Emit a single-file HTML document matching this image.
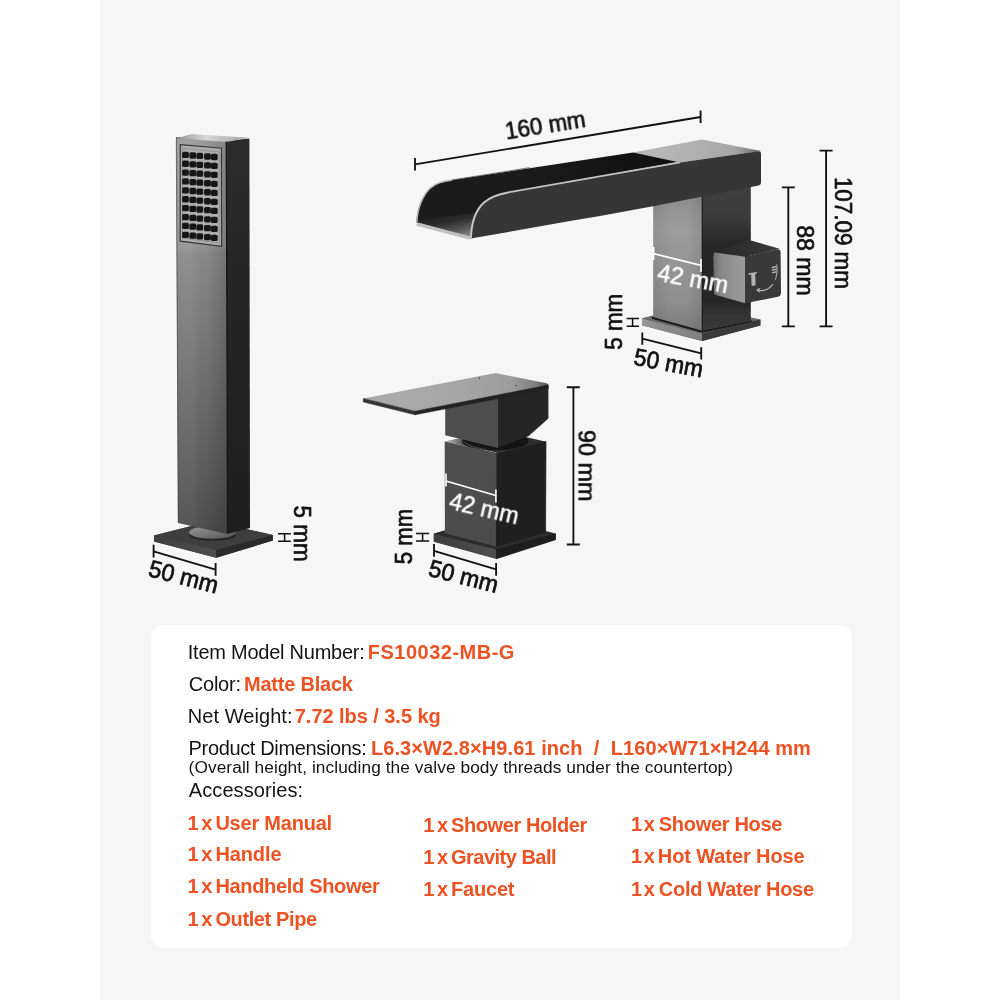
<!DOCTYPE html>
<html lang="en">
<head>
<meta charset="utf-8">
<title>Faucet set dimensions</title>
<style>
  html, body { margin: 0; padding: 0; }
  body { width: 1000px; height: 1000px; background: #ffffff; position: relative; overflow: hidden;
         font-family: "Liberation Sans", sans-serif; }
  .band { position: absolute; left: 100px; top: 0; width: 800px; height: 1000px; background: #f6f6f6; }
  .card { position: absolute; left: 151px; top: 625px; width: 701px; height: 323px; background: #ffffff; border-radius: 13px; }
  .art { position: absolute; left: 0; top: 0; width: 1000px; height: 1000px; }
  .t { position: absolute; white-space: nowrap; line-height: 1; font-size: 20px; color: #141414;
       transform-origin: 0 0; }
  .o { color: #ec5222; font-weight: bold; }
  .s { font-size: 17px; }
</style>
</head>
<body>
<div class="band"></div>
<div class="card"></div>

<!--ART-->
<svg class="art" width="1000" height="1000" viewBox="0 0 1000 1000">
<defs>
  <linearGradient id="shFront" x1="0" y1="0" x2="0" y2="1">
    <stop offset="0" stop-color="#9c9c9c"/><stop offset="0.275" stop-color="#949494"/><stop offset="0.295" stop-color="#8a8a8a"/><stop offset="0.411" stop-color="#808080"/><stop offset="0.537" stop-color="#767676"/><stop offset="0.688" stop-color="#696969"/><stop offset="0.839" stop-color="#5d5d5d"/><stop offset="0.965" stop-color="#505050"/><stop offset="1" stop-color="#4c4c4c"/>
  </linearGradient>
  <linearGradient id="shSide" x1="0" y1="0" x2="0" y2="1">
    <stop offset="0" stop-color="#2c2c2c"/><stop offset="0.3" stop-color="#262626"/><stop offset="1" stop-color="#1e1e1e"/>
  </linearGradient>
  <linearGradient id="colFront" x1="0" y1="0" x2="0" y2="1">
    <stop offset="0" stop-color="#7c7c7c"/><stop offset="0.12" stop-color="#909090"/><stop offset="0.3" stop-color="#9c9c9c"/><stop offset="0.8" stop-color="#8e8e8e"/><stop offset="1" stop-color="#7c7c7c"/>
  </linearGradient>
  <linearGradient id="knobL" x1="0" y1="0" x2="1" y2="0">
    <stop offset="0" stop-color="#6c6c6c"/><stop offset="0.25" stop-color="#888888"/><stop offset="0.7" stop-color="#949494"/><stop offset="1" stop-color="#9a9a9a"/>
  </linearGradient>
  <linearGradient id="floorG" x1="0.25" y1="0" x2="0.8" y2="1">
    <stop offset="0" stop-color="#1a1a1a"/><stop offset="0.4" stop-color="#2c2c2c"/><stop offset="0.75" stop-color="#5c5c5c"/><stop offset="1" stop-color="#8e8e8e"/>
  </linearGradient>
  <linearGradient id="leverTop" x1="0" y1="0" x2="1" y2="0">
    <stop offset="0" stop-color="#acacac"/><stop offset="0.5" stop-color="#a6a6a6"/><stop offset="0.8" stop-color="#9c9c9c"/><stop offset="0.93" stop-color="#808080"/><stop offset="1" stop-color="#505050"/>
  </linearGradient>
  <linearGradient id="blkTop" x1="0" y1="0" x2="1" y2="0">
    <stop offset="0" stop-color="#a8a8a8"/><stop offset="0.1" stop-color="#b8b8b8"/><stop offset="0.5" stop-color="#b0b0b0"/><stop offset="0.8" stop-color="#a6a6a6"/><stop offset="0.93" stop-color="#808080"/><stop offset="1" stop-color="#484848"/>
  </linearGradient>
  <linearGradient id="colEdge" x1="0" y1="0" x2="1" y2="0">
    <stop offset="0" stop-color="#000" stop-opacity="0.08"/><stop offset="0.35" stop-color="#000" stop-opacity="0"/>
    <stop offset="0.7" stop-color="#000" stop-opacity="0"/><stop offset="1" stop-color="#000" stop-opacity="0.08"/>
  </linearGradient>
  <linearGradient id="cubeL" x1="0" y1="0" x2="0" y2="1">
    <stop offset="0" stop-color="#4e4e4e"/><stop offset="1" stop-color="#4b4b4b"/>
  </linearGradient>
  <linearGradient id="blockL" x1="0" y1="0" x2="1" y2="1">
    <stop offset="0" stop-color="#4d4d4d"/><stop offset="1" stop-color="#4d4d4d"/>
  </linearGradient>
  <linearGradient id="shTop" x1="0" y1="0" x2="1" y2="0">
    <stop offset="0" stop-color="#909090"/><stop offset="0.4" stop-color="#d8d8d8"/><stop offset="1" stop-color="#a0a0a0"/>
  </linearGradient>
  <linearGradient id="shH" x1="0" y1="0" x2="1" y2="0">
    <stop offset="0" stop-color="#fff" stop-opacity="0.04"/><stop offset="0.3" stop-color="#fff" stop-opacity="0.05"/><stop offset="0.6" stop-color="#000" stop-opacity="0.02"/><stop offset="1" stop-color="#000" stop-opacity="0.17"/>
  </linearGradient>
  <linearGradient id="colSide" x1="0" y1="0" x2="0" y2="1">
    <stop offset="0" stop-color="#404040"/><stop offset="0.25" stop-color="#3b3b3b"/><stop offset="0.42" stop-color="#272727"/><stop offset="0.8" stop-color="#252525"/><stop offset="0.9" stop-color="#343434"/><stop offset="1" stop-color="#373737"/>
  </linearGradient>
  <linearGradient id="fbaseL" x1="0" y1="0" x2="1" y2="0"><stop offset="0" stop-color="#989898"/><stop offset="0.4" stop-color="#8a8a8a"/><stop offset="1" stop-color="#808080"/></linearGradient>
  <linearGradient id="sbaseL" x1="0" y1="0" x2="1" y2="0">
    <stop offset="0" stop-color="#3e3e3e"/><stop offset="1" stop-color="#4e4e4e"/>
  </linearGradient>
  <linearGradient id="ringG" x1="0" y1="0" x2="1" y2="1">
    <stop offset="0" stop-color="#989898"/><stop offset="0.6" stop-color="#707070"/><stop offset="1" stop-color="#505050"/>
  </linearGradient>
  <linearGradient id="knobTop" x1="0" y1="0" x2="1" y2="0">
    <stop offset="0" stop-color="#262626"/><stop offset="1" stop-color="#3a3a3a"/>
  </linearGradient>
  <filter id="blur3" x="-50%" y="-50%" width="200%" height="200%"><feGaussianBlur stdDeviation="5"/></filter>
  <clipPath id="colSideClip"><polygon points="702,185 750.8,180 750.8,320.8 702,330.4"/></clipPath>
  <linearGradient id="cubeTop" x1="0" y1="0" x2="1" y2="0">
    <stop offset="0" stop-color="#bcbcbc"/><stop offset="0.1" stop-color="#8a8a8a"/><stop offset="0.2" stop-color="#484848"/><stop offset="0.3" stop-color="#2c2c2c"/><stop offset="1" stop-color="#2e2e2e"/>
  </linearGradient>
  <linearGradient id="backG" x1="0" y1="0" x2="1" y2="0">
    <stop offset="0" stop-color="#1c1c1c"/><stop offset="0.5" stop-color="#191919"/><stop offset="1" stop-color="#0f0f0f"/>
  </linearGradient>
</defs>

<!-- ================= HANDHELD SHOWER ================= -->
<g id="shower">
  <!-- base plate -->
  <polygon points="154,535.5 211,521 272.8,535 272.8,540.5 216.2,557.8 154,541.5" fill="#3a3a3a"/>
  <polygon points="154,535.5 211,521 272.8,535 216.2,550" fill="#3e3e3e"/>
  <polygon points="154,535.5 216.2,550 216.2,557.8 154,541.5" fill="url(#sbaseL)"/>
  <polygon points="216.2,550 272.8,535 272.8,540.5 216.2,557.8" fill="#2a2a2a"/>
  <!-- connector ring -->
  <ellipse cx="212.4" cy="535" rx="23.4" ry="6" fill="#262626"/>
  <ellipse cx="212.4" cy="532.4" rx="23.4" ry="6.4" fill="url(#ringG)"/>
  <!-- body -->
  <polygon points="176,137.6 226,141 227.4,534 178,523" fill="url(#shFront)"/>
  <polygon points="176,137.6 226,141 227.4,534 178,523" fill="url(#shH)"/>
  <path d="M176.3,137.8 L178.3,523" stroke="#3c3c3c" stroke-width="0.9" fill="none" opacity="0.7"/>
  <path d="M176,137.8 L226,141.2" stroke="#3a3a3a" stroke-width="0.9" fill="none"/>
  <polygon points="226,141 249.4,138.4 250,528 227.4,534" fill="url(#shSide)"/>
  <polygon points="176.3,138.5 191.6,134 248.6,137.8 226.3,142" fill="url(#shTop)"/>
  <path d="M226.3,141.4 L227.6,533.6" stroke="#141414" stroke-width="1.3" fill="none"/>
  <!-- spray plate -->
  <polygon points="180.3,144.6 221.4,148.2 221.6,246.3 180.2,241.1" fill="#adadad" stroke="#383838" stroke-width="1.2"/>
  <polygon points="182.4,148.4 219.2,151.8 219.4,243 182.4,238" fill="none" stroke="#8a8a8a" stroke-width="0.8"/>
  <g id="nozzles" fill="#161616"><rect x="182.10" y="151.81" width="6.8" height="6.3" rx="1.6"/><rect x="189.40" y="152.33" width="6.8" height="6.3" rx="1.6"/><rect x="196.40" y="152.82" width="6.8" height="6.3" rx="1.6"/><rect x="204.10" y="153.35" width="6.8" height="6.3" rx="1.6"/><rect x="210.90" y="153.83" width="6.8" height="6.3" rx="1.6"/><rect x="182.10" y="160.61" width="6.8" height="6.3" rx="1.6"/><rect x="189.40" y="161.15" width="6.8" height="6.3" rx="1.6"/><rect x="196.40" y="161.67" width="6.8" height="6.3" rx="1.6"/><rect x="204.10" y="162.24" width="6.8" height="6.3" rx="1.6"/><rect x="210.90" y="162.74" width="6.8" height="6.3" rx="1.6"/><rect x="182.10" y="169.41" width="6.8" height="6.3" rx="1.6"/><rect x="189.40" y="169.98" width="6.8" height="6.3" rx="1.6"/><rect x="196.40" y="170.53" width="6.8" height="6.3" rx="1.6"/><rect x="204.10" y="171.13" width="6.8" height="6.3" rx="1.6"/><rect x="210.90" y="171.66" width="6.8" height="6.3" rx="1.6"/><rect x="182.10" y="178.31" width="6.8" height="6.3" rx="1.6"/><rect x="189.40" y="178.91" width="6.8" height="6.3" rx="1.6"/><rect x="196.40" y="179.48" width="6.8" height="6.3" rx="1.6"/><rect x="204.10" y="180.11" width="6.8" height="6.3" rx="1.6"/><rect x="210.90" y="180.67" width="6.8" height="6.3" rx="1.6"/><rect x="182.10" y="187.21" width="6.8" height="6.3" rx="1.6"/><rect x="189.40" y="187.83" width="6.8" height="6.3" rx="1.6"/><rect x="196.40" y="188.44" width="6.8" height="6.3" rx="1.6"/><rect x="204.10" y="189.10" width="6.8" height="6.3" rx="1.6"/><rect x="210.90" y="189.68" width="6.8" height="6.3" rx="1.6"/><rect x="182.10" y="196.11" width="6.8" height="6.3" rx="1.6"/><rect x="189.40" y="196.76" width="6.8" height="6.3" rx="1.6"/><rect x="196.40" y="197.39" width="6.8" height="6.3" rx="1.6"/><rect x="204.10" y="198.09" width="6.8" height="6.3" rx="1.6"/><rect x="210.90" y="198.70" width="6.8" height="6.3" rx="1.6"/><rect x="182.10" y="205.00" width="6.8" height="6.3" rx="1.6"/><rect x="189.40" y="205.69" width="6.8" height="6.3" rx="1.6"/><rect x="196.40" y="206.35" width="6.8" height="6.3" rx="1.6"/><rect x="204.10" y="207.07" width="6.8" height="6.3" rx="1.6"/><rect x="210.90" y="207.71" width="6.8" height="6.3" rx="1.6"/><rect x="182.10" y="214.00" width="6.8" height="6.3" rx="1.6"/><rect x="189.40" y="214.72" width="6.8" height="6.3" rx="1.6"/><rect x="196.40" y="215.40" width="6.8" height="6.3" rx="1.6"/><rect x="204.10" y="216.16" width="6.8" height="6.3" rx="1.6"/><rect x="210.90" y="216.82" width="6.8" height="6.3" rx="1.6"/><rect x="182.10" y="222.80" width="6.8" height="6.3" rx="1.6"/><rect x="189.40" y="223.54" width="6.8" height="6.3" rx="1.6"/><rect x="196.40" y="224.26" width="6.8" height="6.3" rx="1.6"/><rect x="204.10" y="225.04" width="6.8" height="6.3" rx="1.6"/><rect x="210.90" y="225.74" width="6.8" height="6.3" rx="1.6"/><rect x="182.10" y="231.70" width="6.8" height="6.3" rx="1.6"/><rect x="189.40" y="232.47" width="6.8" height="6.3" rx="1.6"/><rect x="196.40" y="233.21" width="6.8" height="6.3" rx="1.6"/><rect x="204.10" y="234.03" width="6.8" height="6.3" rx="1.6"/><rect x="210.90" y="234.75" width="6.8" height="6.3" rx="1.6"/></g>
</g>

<!-- ================= FAUCET ================= -->
<g id="faucet">
  <!-- base plate -->
  <polygon points="642,318.4 690,306 760.4,319.4 760.4,325.6 702,341 642,325.2" fill="#4a4a4a"/>
  <polygon points="642,318.4 690,306 760.4,319.4 702,333.4" fill="#6a6a6a"/>
  <path d="M652,317.6 L702,331.6 L752,321.4" stroke="#1c1c1c" stroke-width="2.4" fill="none"/>
  <polygon points="642,318.4 702,333.4 702,341 642,325.2" fill="url(#fbaseL)"/>
  <polygon points="702,333.4 760.4,319.4 760.4,325.6 702,341" fill="#3a3a3a"/>
  <!-- column -->
  <polygon points="653.2,190 702,185 702,330.4 653.2,317" fill="url(#colFront)"/>
  <polygon points="653.2,190 702,185 702,330.4 653.2,317" fill="url(#colEdge)"/>
  <polygon points="702,185 750.8,180 750.8,320.8 702,330.4" fill="url(#colSide)"/>
  <path d="M702.3,196 L702.3,330" stroke="#1c1c1c" stroke-width="1.2" fill="none"/>
  <!-- spout: interior back wall -->
  <path d="M416.4,222.4 C417.4,207 424,187.5 440,182.6 Q444,181.4 452,180 L633,152.4 L690,160 L508,192.4 C484,199 472,220 470.8,238.4 Z" fill="url(#backG)"/>
  <!-- floor -->
  <path d="M417,221.6 L470.8,237.4 C471.2,229 473,220.5 476.6,212.8 L418.4,220.4 Z" fill="url(#floorG)"/>
  <path d="M416.8,224 L470.3,238.2" stroke="#c0c0c0" stroke-width="3.4" fill="none"/>
  <path d="M416.8,222.4 C417.4,207 424,187.5 440,182.6 Q444,181.4 452,180" stroke="#b8b8b8" stroke-width="1.5" fill="none"/>
  <path d="M452,180 L530,167.6" stroke="#5a5a5a" stroke-width="0.8" fill="none"/>
  <!-- top of solid block -->
  <polygon points="633,152.4 702,139.4 761,151 680,162.4" fill="url(#blkTop)"/>
  <!-- front wall -->
  <path d="M470.8,238.6 C471.3,226 474.5,211 484,202.5 C490,197 497,194.3 508,192.4 L680,162.4 L758.6,151.2 Q761,150.9 761,153.4 L761,182.8 Q761,185 758.6,185.5 L653,206.2 L600,216 L570,221 Z" fill="#363636"/>
  <path d="M470.9,238 C471.3,226 474.5,211 484,202.5 C490,197 497,194.3 508,192.4" stroke="#c6c6c6" stroke-width="2" fill="none"/>
  <path d="M508,192.4 L680,162.4" stroke="#c2c2c2" stroke-width="1.7" fill="none"/>
  <!-- knob -->
  <polygon points="713.2,252 749.2,240 779.6,248.8 745.2,256.8" fill="url(#knobTop)"/>
  <path d="M715.2,252.4 L745.2,256.8 L745.2,303.2 L716,295 Q714,294.4 714,292.4 L713.4,254.2 Q713.4,252.2 715.2,252.4 Z" fill="url(#knobL)"/>
  <path d="M745.2,256.8 L776.6,249.4 Q780.4,248.6 780.6,252.4 L781,292.6 Q781,296 777.8,296.8 L745.2,303.2 Z" fill="#393939"/>
  <!-- knob icons -->
  <g stroke="#b4b4b4" stroke-width="1.2" fill="none" stroke-linecap="round">
    <path d="M757.6,290 Q766,292.6 772.6,284.6"/>
    <path d="M757,290 l2.8,-1.4 M757,290 l2.4,1.9"/>
    <path d="M776.8,264.8 Q778.2,272 775.6,279.4" stroke-width="1"/>
  </g>
  <path d="M748.6,273.2 l8.2,-1.2 l0.2,1.6 l-1.8,0.4 l0.4,11.2 l-4,0.8 l-0.4,-11.4 l-2.4,0.4 Z" fill="#b4b4b4"/>
  <path d="M771.6,267 l4.6,-1.2 l0.2,1.4 l-4.6,1.2 Z M771.8,269.6 l4.6,-1.2 l0.2,1.4 l-4.6,1.2 Z M772,272.2 l4.4,-1.2 l0.2,1.4 l-4.4,1.2 Z" fill="#b4b4b4"/>
</g>

<!-- ================= HANDLE ================= -->
<g id="handle">
  <!-- base plate -->
  <polygon points="434,534 490,518 555.4,534 555.4,539.6 496.4,558.6 434,541.4" fill="#333" stroke="#333" stroke-width="0.7" stroke-linejoin="round"/>
  <polygon points="434,534 490,518 555.4,534 496.4,549.6" fill="#2c2c2c" stroke="#2c2c2c" stroke-width="0.7" stroke-linejoin="round"/>
  <polygon points="434,534 496.4,549.6 496.4,558.6 434,541.4" fill="url(#sbaseL)"/>
  <polygon points="496.4,549.6 555.4,534 555.4,539.6 496.4,558.6" fill="#1e1e1e" stroke="#1e1e1e" stroke-width="0.7" stroke-linejoin="round"/>
  <!-- cube -->
  <polygon points="444.7,441.6 495,430 546.4,441.8 496.6,452.6" fill="url(#cubeTop)"/>
  <polygon points="444.7,441.6 496.4,452.8 496.4,546.6 444.9,533.2" fill="url(#cubeL)"/>
  <polygon points="496.4,452.8 546,441.6 545.6,532 496.4,546.6" fill="#1f1f1f" stroke="#1f1f1f" stroke-width="0.7" stroke-linejoin="round"/>
  <!-- neck -->
  <ellipse cx="495.2" cy="441.2" rx="33.2" ry="9" fill="#141414"/>
  <path d="M463,441 Q470,447.5 486,449.6" stroke="#3c3c3c" stroke-width="1.6" fill="none"/>
  <!-- lever block -->
  <polygon points="445.2,408 498,397.5 498,448 445.2,435.2" fill="url(#blockL)"/>
  <path d="M498,396.5 L546.4,386 Q548.4,385.6 548.4,388 L548.4,418.4 L528.4,436.2 L498,448 Z" fill="#252525"/>
  <!-- lever plate -->
  <path d="M363.3,398.4 L495.8,373.1 L546.6,383.2 Q548.6,383.8 548.4,386 L415,411.2 Z" fill="url(#leverTop)"/>
  <polygon points="363.3,398.4 415,411.2 415,414.8 363.3,402" fill="#343434" stroke="#343434" stroke-width="0.5"/>
  <polygon points="415,411.2 548.4,385 548.4,388.8 415,414.8" fill="#222222" stroke="#222222" stroke-width="0.5"/>
  <circle cx="479.5" cy="378.4" r="0.7" fill="#2a2a2a"/><circle cx="516" cy="385.6" r="0.7" fill="#2a2a2a"/>
</g>

<!-- ================= DIMENSION LINES ================= -->
<g stroke="#111" stroke-width="1.85" fill="none">
  <!-- shower 50mm -->
  <path d="M153.6,551.3 L215.6,569.7 M153.6,544.8 V557.4 M215.6,563 V575.8"/>
  <!-- shower 5mm I-beam -->
  <path d="M278,533.8 H290.8 M278,541.2 H290.8 M284.6,533.8 V541.2" stroke-width="1.5"/>
  <!-- 160 mm -->
  <path d="M415,164.4 L700.6,117 M415,158 V170.4 M700.6,110.4 V123"/>
  <!-- faucet 50mm -->
  <path d="M642.3,338.6 L701.2,353.4 M642.3,332.6 V344.8 M701.2,347.2 V359.6"/>
  <!-- faucet 5mm -->
  <path d="M626.6,318.6 H639 M626.6,326.2 H639 M632.6,318.6 V326.2" stroke-width="1.5"/>
  <!-- 88 mm -->
  <path d="M788.3,187.3 V326.3 M781.8,187.3 H794.8 M781.8,326.3 H794.8"/>
  <!-- 107.09 mm -->
  <path d="M826.1,150.6 V326.3 M819.6,150.6 H832.6 M819.6,326.3 H832.6"/>
  <!-- handle 50mm -->
  <path d="M434,550.8 L496.1,569.3 M434,544 V556.8 M496.1,563 V575.7"/>
  <!-- handle 5mm -->
  <path d="M416,533.4 H429.2 M416,541 H429.2 M422.6,533.4 V541" stroke-width="1.5"/>
  <!-- 90 mm -->
  <path d="M573.4,387.2 V544.5 M566.8,387.2 H579.8 M566.8,544.5 H579.8"/>
</g>
<g stroke="#ffffff" stroke-width="1.6" fill="none">
  <path d="M653.6,253.6 L701,265.4 M653.6,247 V260 M701,259 V272"/>
  <path d="M446,481.1 L495.9,495.5 M446,473.6 V486.6 M495.9,489.4 V502.4"/>
</g>

<!-- ================= DIMENSION LABELS ================= -->
<g opacity="0.999" font-family="Liberation Sans, sans-serif" font-size="24" fill="#111" stroke="#111" stroke-width="0.7" stroke-linejoin="round">
  <text transform="translate(506.5,139.5) rotate(-9)" textLength="81" lengthAdjust="spacingAndGlyphs">160 mm</text>
  <text transform="translate(147.3,575.7) rotate(14.5)" textLength="71" lengthAdjust="spacingAndGlyphs">50 mm</text>
  <text transform="translate(293.6,505.6) rotate(90)" textLength="56" lengthAdjust="spacingAndGlyphs">5 mm</text>
  <text transform="translate(632.7,364.6) rotate(10.5)" textLength="70" lengthAdjust="spacingAndGlyphs">50 mm</text>
  <text transform="translate(622.2,349.8) rotate(-90)" textLength="56" lengthAdjust="spacingAndGlyphs">5 mm</text>
  <text transform="translate(797,225.2) rotate(90)" textLength="70.5" lengthAdjust="spacingAndGlyphs">88 mm</text>
  <text transform="translate(835.2,176.9) rotate(90)" textLength="112" lengthAdjust="spacingAndGlyphs">107.09 mm</text>
  <text transform="translate(427.3,575.6) rotate(14.2)" textLength="71" lengthAdjust="spacingAndGlyphs">50 mm</text>
  <text transform="translate(412.4,564.2) rotate(-90)" textLength="55.5" lengthAdjust="spacingAndGlyphs">5 mm</text>
  <text transform="translate(578.6,430) rotate(90)" textLength="71.5" lengthAdjust="spacingAndGlyphs">90 mm</text>
</g>
<g opacity="0.999" font-family="Liberation Sans, sans-serif" font-size="23.5" fill="#ffffff" stroke="#ffffff" stroke-width="0.5" stroke-linejoin="round">
  <text transform="translate(656.4,280.5) rotate(10.3)" textLength="71.4" lengthAdjust="spacingAndGlyphs">42 mm</text>
  <text transform="translate(448.1,508.5) rotate(13)" textLength="70.6" lengthAdjust="spacingAndGlyphs">42 mm</text>
</g>
</svg>

<!--/ART-->

<div id="txt" style="position:absolute;left:0;top:0;width:1000px;height:1000px;will-change:transform;filter:opacity(0.999);">
<!-- spec card text -->
<div class="t " id="r1a" style="left:187.80px; top:642.10px; font-size:20.0px; letter-spacing:-0.247px;">Item Model Number:</div>
<div class="t o" id="r1b" style="left:367.80px; top:642.10px; font-size:20.0px; letter-spacing:0.491px;">FS10032-MB-G</div>
<div class="t " id="r2a" style="left:188.80px; top:674.10px; font-size:20.0px; letter-spacing:-0.240px;">Color:</div>
<div class="t o" id="r2b" style="left:244.00px; top:674.10px; font-size:20.0px; letter-spacing:-0.220px;">Matte Black</div>
<div class="t " id="r3a" style="left:187.80px; top:705.50px; font-size:20.0px; letter-spacing:0.060px;">Net Weight:</div>
<div class="t o" id="r3b" style="left:294.80px; top:705.50px; font-size:20.0px; letter-spacing:-0.050px;">7.72 lbs / 3.5 kg</div>
<div class="t " id="r4a" style="left:188.60px; top:737.70px; font-size:20.0px; letter-spacing:-0.356px;">Product Dimensions:</div>
<div class="t o" id="r4b" style="left:371.00px; top:737.70px; font-size:20.0px; letter-spacing:0.075px;">L6.3×W2.8×H9.61 inch&nbsp; /&nbsp; L160×W71×H244 mm</div>
<div class="t " id="r5" style="left:188.60px; top:758.74px; font-size:17.3px; letter-spacing:0.079px;">(Overall height, including the valve body threads under the countertop)</div>
<div class="t " id="r6" style="left:188.80px; top:779.90px; font-size:20.0px; letter-spacing:0.091px;">Accessories:</div>
<div class="t o" id="a1q" style="left:187.60px; top:813.00px; font-size:20.0px; letter-spacing:-1.450px;">1 x</div>
<div class="t o" id="a1n" style="left:215.40px; top:813.00px; font-size:20.0px; letter-spacing:-0.220px;">User Manual</div>
<div class="t o" id="a2q" style="left:187.60px; top:844.20px; font-size:20.0px; letter-spacing:-1.450px;">1 x</div>
<div class="t o" id="a2n" style="left:215.40px; top:844.20px; font-size:20.0px; letter-spacing:-0.100px;">Handle</div>
<div class="t o" id="a3q" style="left:187.60px; top:875.80px; font-size:20.0px; letter-spacing:-1.450px;">1 x</div>
<div class="t o" id="a3n" style="left:215.40px; top:875.80px; font-size:20.0px; letter-spacing:-0.321px;">Handheld Shower</div>
<div class="t o" id="a4q" style="left:187.60px; top:908.60px; font-size:20.0px; letter-spacing:-1.450px;">1 x</div>
<div class="t o" id="a4n" style="left:215.40px; top:908.60px; font-size:20.0px; letter-spacing:-0.380px;">Outlet Pipe</div>
<div class="t o" id="b1q" style="left:423.20px; top:814.80px; font-size:20.0px; letter-spacing:-1.450px;">1 x</div>
<div class="t o" id="b1n" style="left:451.00px; top:814.80px; font-size:20.0px; letter-spacing:-0.408px;">Shower Holder</div>
<div class="t o" id="b2q" style="left:423.20px; top:847.00px; font-size:20.0px; letter-spacing:-1.450px;">1 x</div>
<div class="t o" id="b2n" style="left:451.00px; top:847.00px; font-size:20.0px; letter-spacing:-0.509px;">Gravity Ball</div>
<div class="t o" id="b3q" style="left:423.20px; top:878.60px; font-size:20.0px; letter-spacing:-1.450px;">1 x</div>
<div class="t o" id="b3n" style="left:451.00px; top:878.60px; font-size:20.0px; letter-spacing:-0.200px;">Faucet</div>
<div class="t o" id="c1q" style="left:631.00px; top:814.20px; font-size:20.0px; letter-spacing:-1.950px;">1 x</div>
<div class="t o" id="c1n" style="left:658.80px; top:814.20px; font-size:20.0px; letter-spacing:-0.310px;">Shower Hose</div>
<div class="t o" id="c2q" style="left:631.00px; top:846.40px; font-size:20.0px; letter-spacing:-1.950px;">1 x</div>
<div class="t o" id="c2n" style="left:657.80px; top:846.40px; font-size:20.0px; letter-spacing:-0.100px;">Hot Water Hose</div>
<div class="t o" id="c3q" style="left:631.00px; top:878.60px; font-size:20.0px; letter-spacing:-1.950px;">1 x</div>
<div class="t o" id="c3n" style="left:658.80px; top:878.60px; font-size:20.0px; letter-spacing:-0.286px;">Cold Water Hose</div>
</div>
</body>
</html>
